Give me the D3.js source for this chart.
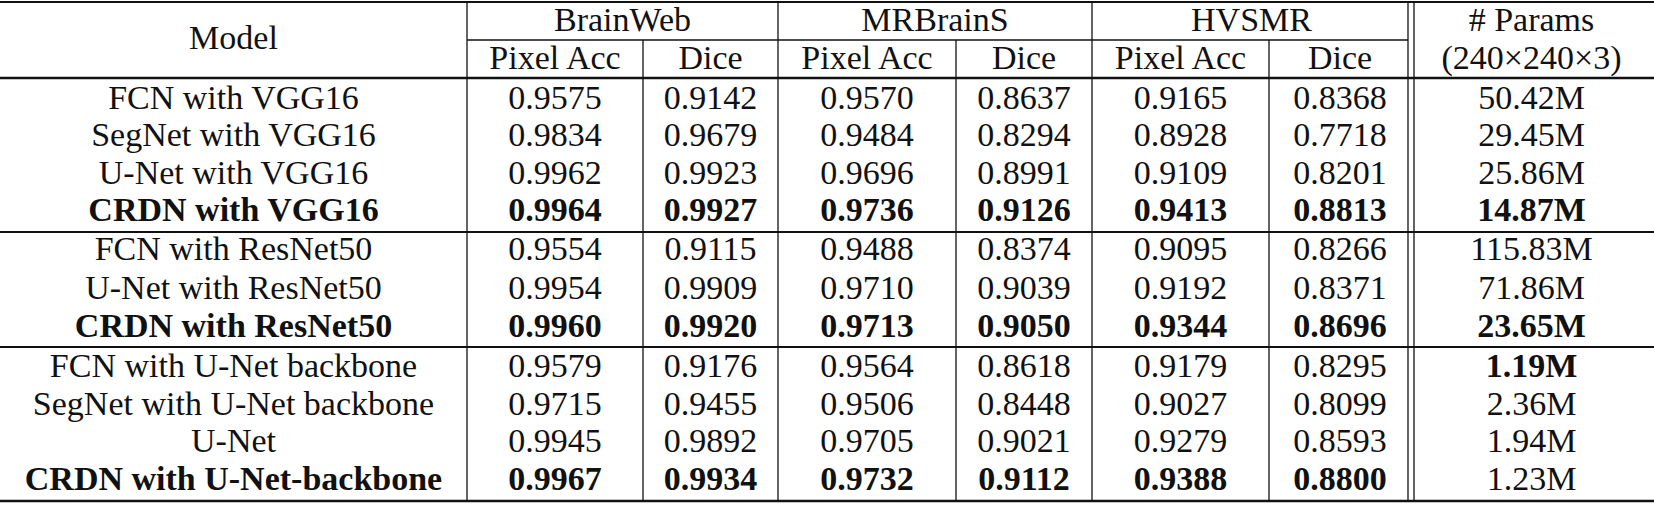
<!DOCTYPE html><html><head><meta charset="utf-8"><script src="https://cdn.jsdelivr.net/npm/d3@7"></script>
<style>body{margin:0;background:#fff}</style></head><body><svg id="c" width="1654" height="506"></svg><script>
const groups=["BrainWeb","MRBrainS","HVSMR"];
const subCols=["Pixel Acc","Dice"];
const models=["FCN with VGG16","SegNet with VGG16","U-Net with VGG16","CRDN with VGG16","FCN with ResNet50","U-Net with ResNet50","CRDN with ResNet50","FCN with U-Net backbone","SegNet with U-Net backbone","U-Net","CRDN with U-Net-backbone"];
const values=[
["0.9575","0.9142","0.9570","0.8637","0.9165","0.8368"],
["0.9834","0.9679","0.9484","0.8294","0.8928","0.7718"],
["0.9962","0.9923","0.9696","0.8991","0.9109","0.8201"],
["0.9964","0.9927","0.9736","0.9126","0.9413","0.8813"],
["0.9554","0.9115","0.9488","0.8374","0.9095","0.8266"],
["0.9954","0.9909","0.9710","0.9039","0.9192","0.8371"],
["0.9960","0.9920","0.9713","0.9050","0.9344","0.8696"],
["0.9579","0.9176","0.9564","0.8618","0.9179","0.8295"],
["0.9715","0.9455","0.9506","0.8448","0.9027","0.8099"],
["0.9945","0.9892","0.9705","0.9021","0.9279","0.8593"],
["0.9967","0.9934","0.9732","0.9112","0.9388","0.8800"]];
const params=["50.42M","29.45M","25.86M","14.87M","115.83M","71.86M","23.65M","1.19M","2.36M","1.94M","1.23M"];
const boldRows=[3,6,10];
const boldParams=[3,6,7];

const svg=d3.select("#c");
const colEdges=[0,467,643,778,956,1092,1269,1411,1652];
const rowY=[97,134,172,209,248,287,325,365,403,440,478];
const cx=i=>(colEdges[i]+colEdges[i+1])/2;
const fs=34;
function t(x,y,s,b){svg.append("text").attr("x",x).attr("y",y).attr("text-anchor","middle").attr("dominant-baseline","central")
 .attr("font-family","'Liberation Serif','Times New Roman',Times,serif").attr("fill","#111")
 .attr("font-size",fs).attr("font-weight",b?"bold":"normal").text(s);}
function hl(y,x1,x2,w){svg.append("line").attr("x1",x1).attr("x2",x2).attr("y1",y).attr("y2",y).attr("stroke","#111").attr("stroke-width",w);}
function vl(x,y1,y2){svg.append("line").attr("x1",x).attr("x2",x).attr("y1",y1).attr("y2",y2).attr("stroke","#111").attr("stroke-width",1.3);}
t(cx(0),37,"Model");
groups.forEach((g,i)=>{t((colEdges[1+2*i]+colEdges[3+2*i])/2,19,g);subCols.forEach((s,j)=>t(cx(1+2*i+j),57,s));});
t(cx(7),19,"# Params");t(cx(7),57,"(240×240×3)");
models.forEach((m,r)=>{const b=boldRows.includes(r);t(cx(0),rowY[r],m,b);values[r].forEach((v,c)=>t(cx(1+c),rowY[r],v,b));t(cx(7),rowY[r],params[r],boldParams.includes(r));});
hl(2,0,1654,2);hl(40,467,1408,1.3);hl(78,0,1654,2.5);hl(232,0,1654,2);hl(347,0,1654,2);hl(501,0,1654,2.5);
[467,778,1092].forEach(x=>vl(x,2,501));
[643,956,1269].forEach(x=>vl(x,40,501));
vl(1408,2,501);vl(1414,2,501);
</script></body></html>
